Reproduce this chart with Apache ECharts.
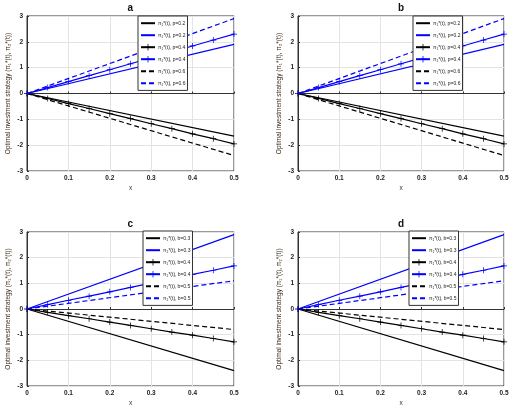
<!DOCTYPE html>
<html>
<head>
<meta charset="utf-8">
<script src="https://cdn.jsdelivr.net/npm/echarts@6/dist/echarts.min.js"></script>
<style>
  html, body { margin: 0; padding: 0; background: #fff; }
  #chart { width: 516px; height: 418px; }
</style>
</head>
<body>
<div id="chart"></div>
<script>
// x positions
const xEnds = [0, 0.5]
const xMarks = [0, 0.05, 0.1, 0.15, 0.2, 0.25, 0.3, 0.35, 0.4, 0.45, 0.5]

// panels a / b (varying p)
const pi1P02 = [0, -1.65]
const pi2P02 = [0, 1.9]
const pi1P04 = [0, -0.19, -0.39, -0.58, -0.78, -0.97, -1.17, -1.36, -1.56, -1.75, -1.95]
const pi2P04 = [0, 0.23, 0.46, 0.69, 0.92, 1.15, 1.38, 1.61, 1.84, 2.07, 2.3]
const pi1P06 = [0, -2.4]
const pi2P06 = [0, 2.9]

// panels c / d (varying b)
const pi1B03 = [0, -2.4]
const pi2B03 = [0, 2.9]
const pi1B04 = [0, -0.13, -0.26, -0.38, -0.51, -0.64, -0.77, -0.9, -1.02, -1.15, -1.28]
const pi2B04 = [0, 0.17, 0.34, 0.5, 0.67, 0.84, 1.01, 1.18, 1.35, 1.51, 1.68]
const pi1B05 = [0, -0.8]
const pi2B05 = [0, 1.1]

const panelTitles = ['a', 'b', 'c', 'd']
const yName = 'Optimal investment strategy (π₁*(t), π₂*(t))'

const FONT = 'Liberation Sans, Arial, sans-serif'
const plus = 'path://M-1,-0.12H1V0.12H-1Z M-0.12,-1H0.12V1H-0.12Z'

// panel boxes in pixels
const boxes = [
  { left: 27, top: 16, width: 207, height: 155 },
  { left: 298, top: 16, width: 206, height: 155 },
  { left: 27, top: 232, width: 207, height: 154 },
  { left: 298, top: 232, width: 206, height: 154 }
]

function line (name, xs, ys, color, dashed, marker, gi) {
  return {
    name: name,
    type: 'line',
    xAxisIndex: gi,
    yAxisIndex: gi,
    data: xs.map((x, i) => [x, ys[i]]),
    showSymbol: marker,
    symbol: plus,
    symbolSize: 6,
    color: color,
    itemStyle: { color: color },
    lineStyle: { color: color, width: 1.2, type: dashed ? [5, 3] : 'solid' },
    animation: false,
    silent: true
  }
}

function panelSeries (gi, tag, v) {
  return [
    line('π₁*(t), ' + tag[0], xEnds, v[0], '#000', false, false, gi),
    line('π₂*(t), ' + tag[0], xEnds, v[1], '#0000ff', false, false, gi),
    line('π₁*(t), ' + tag[1], xMarks, v[2], '#000', false, true, gi),
    line('π₂*(t), ' + tag[1], xMarks, v[3], '#0000ff', false, true, gi),
    line('π₁*(t), ' + tag[2], xEnds, v[4], '#000', true, false, gi),
    line('π₂*(t), ' + tag[2], xEnds, v[5], '#0000ff', true, false, gi)
  ]
}

const tagP = ['p=0.2', 'p=0.4', 'p=0.6']
const tagB = ['b=0.3', 'b=0.4', 'b=0.5']
const valsP = [pi1P02, pi2P02, pi1P04, pi2P04, pi1P06, pi2P06]
const valsB = [pi1B03, pi2B03, pi1B04, pi2B04, pi1B05, pi2B05]

let series = []
  .concat(panelSeries(0, tagP, valsP))
  .concat(panelSeries(1, tagP, valsP))
  .concat(panelSeries(2, tagB, valsB))
  .concat(panelSeries(3, tagB, valsB))

// legend entries: only the middle pair shows the + marker
function legendItems (tag) {
  let out = []
  tag.forEach((t, k) => {
    const hide = k !== 1
    out.push({ name: 'π₁*(t), ' + t, itemStyle: hide ? { opacity: 0 } : {} })
    out.push({ name: 'π₂*(t), ' + t, itemStyle: hide ? { opacity: 0 } : {} })
  })
  return out
}

const legendPos = [
  { left: 138, top: 16, tag: tagP },
  { left: 413, top: 16, tag: tagP },
  { left: 143, top: 231, tag: tagB },
  { left: 409, top: 231, tag: tagB }
]

let myChart = echarts.init(document.getElementById('chart'), null, { renderer: 'canvas' })
myChart.setOption({
  animation: false,
  backgroundColor: '#fff',
  textStyle: { fontFamily: FONT },
  title: panelTitles.map((t, i) => ({
    text: t,
    left: boxes[i].left + boxes[i].width / 2 - 3,
    top: boxes[i].top - 13,
    padding: 0,
    textStyle: { fontSize: 10, fontWeight: 'bold', color: '#111', fontFamily: FONT }
  })),
  legend: legendPos.map(l => ({
    data: legendItems(l.tag),
    orient: 'vertical',
    left: l.left,
    top: l.top,
    padding: [4, 2, 4, 2],
    itemWidth: 14,
    itemHeight: 8,
    itemGap: 5.6,
    selectedMode: false,
    borderColor: '#333',
    borderWidth: 1,
    borderRadius: 0,
    backgroundColor: '#fff',
    textStyle: { fontSize: 5, color: '#222', fontFamily: FONT, padding: [0, 0, 0, -2] }
  })),
  grid: boxes.map(b => ({
    left: b.left,
    top: b.top,
    width: b.width,
    height: b.height,
    show: true,
    borderColor: '#333',
    borderWidth: 1,
    backgroundColor: '#fff',
    containLabel: false
  })),
  xAxis: boxes.map((b, i) => ({
    type: 'value',
    gridIndex: i,
    min: 0,
    max: 0.5,
    interval: 0.1,
    name: 'x',
    nameLocation: 'middle',
    nameGap: 14,
    nameTextStyle: { fontSize: 6.5, color: '#333' },
    axisLine: { show: true, lineStyle: { color: '#333', width: 1 } },
    axisTick: { show: true, inside: true, length: 2, lineStyle: { color: '#333' } },
    axisLabel: { fontSize: 6.5, color: '#222', margin: 4, fontWeight: 'bold' },
    splitLine: { show: true, lineStyle: { color: '#e3e3e3', width: 1 } }
  })),
  yAxis: boxes.map((b, i) => ({
    type: 'value',
    gridIndex: i,
    min: -3,
    max: 3,
    interval: 1,
    name: yName,
    nameLocation: 'middle',
    nameGap: 15,
    nameRotate: 90,
    nameTextStyle: { fontSize: 6.5, color: '#3a2a1a' },
    axisLine: { show: true, lineStyle: { color: '#333', width: 1 } },
    axisTick: { show: true, inside: true, length: 2, lineStyle: { color: '#333' } },
    axisLabel: { fontSize: 6.5, color: '#222', margin: 4, fontWeight: 'bold' },
    splitLine: { show: true, lineStyle: { color: '#e3e3e3', width: 1 } }
  })),
  series: series
})
</script>
</body>
</html>
